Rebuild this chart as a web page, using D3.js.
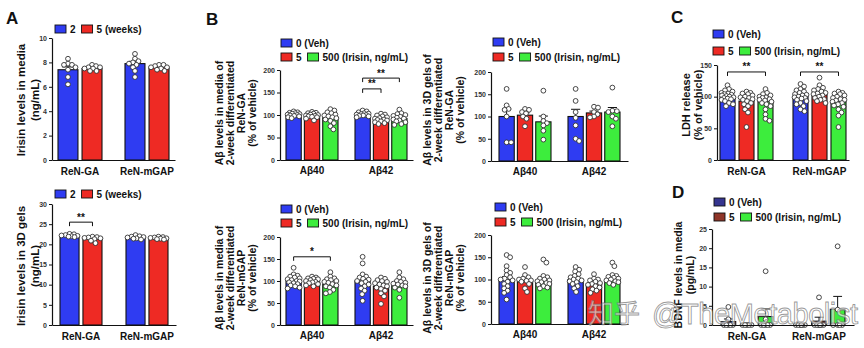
<!DOCTYPE html>
<html><head><meta charset="utf-8">
<script src="https://cdn.jsdelivr.net/npm/d3@7"></script>
<style>body{margin:0;background:#fff}svg{display:block;font-family:"Liberation Sans",Arial,sans-serif}</style>
</head><body><svg id="c" width="864" height="348"></svg>
<script>
// ---------------- DATA ----------------
const catCells = ["ReN-GA", "ReN-mGAP"];
const catAb = ["Aβ40", "Aβ42"];
const weekSeries = ["2", "5 (weeks)"];
const doseSeries = ["0 (Veh)", "5", "500 (Irisin, ng/mL)"];

const ticksA1 = [0, 2, 4, 6, 8, 10];
const ticksA2 = [0, 5, 10, 15, 20, 25, 30];
const ticksB = [0, 50, 100, 150, 200];
const ticksC = [0, 50, 100, 150];
const ticksD = [0, 5, 10, 15, 20, 25];

// Panel A: irisin in media (ng/mL)
const a1Means = [[7.4, 7.5], [7.9, 7.6]];
const a1Points = [
  [[8.3, 7.9, 7.8, 7.8, 7.6, 7.4, 6.8, 6.2], [7.8, 7.7, 7.6, 7.6, 7.5, 7.5, 7.3, 7.3]],
  [[8.7, 8.3, 8.1, 8.0, 7.9, 7.8, 7.6, 7.3, 6.8], [7.8, 7.8, 7.7, 7.6, 7.6, 7.5, 7.4, 7.3]]
];
// Panel A: irisin in 3D gels (ng/mL)
const a2Means = [[22.1, 21.4], [21.7, 21.5]];
const a2Points = [
  [[22.6, 22.5, 22.3, 22.2, 22.1, 22.0, 21.9, 21.8], [21.9, 21.8, 21.7, 21.6, 21.5, 21.3, 20.9, 20.3]],
  [[22.3, 22.0, 21.9, 21.8, 21.7, 21.5, 21.4, 21.2], [21.9, 21.8, 21.7, 21.6, 21.5, 21.4, 21.3, 21.2]]
];
const a2Sig = [{ group: "ReN-GA", from: 0, to: 1, at: 25.5, label: "**" }];

// Panel B: Abeta in media, ReN-GA (% of vehicle)
const bMediaGAMeans = [[100, 98, 94], [100, 90, 92]];
const bMediaGAPoints = [
  [[108, 106, 105, 104, 103, 102, 101, 100, 99, 98, 97, 95, 93],
   [107, 105, 104, 103, 101, 100, 99, 98, 97, 96, 95, 92, 88],
   [113, 110, 106, 104, 101, 99, 97, 95, 93, 90, 87, 82, 75, 68]],
  [[110, 108, 106, 104, 103, 102, 101, 100, 99, 98, 97, 95],
   [103, 101, 99, 97, 95, 93, 92, 90, 89, 88, 86, 84, 82, 80],
   [112, 104, 102, 100, 98, 96, 94, 92, 90, 88, 86, 84, 80, 78]]
];
const bMediaGASig = [
  { group: "Aβ42", from: 0, to: 1, at: 158, label: "**" },
  { group: "Aβ42", from: 0, to: 2, at: 182, label: "**" }
];
// Panel B: Abeta in media, ReN-mGAP
const bMediaMGMeans = [[100, 98, 92], [100, 88, 90]];
const bMediaMGPoints = [
  [[130, 115, 112, 110, 108, 106, 104, 102, 100, 99, 97, 95, 93, 90, 88, 85, 83],
   [110, 108, 106, 105, 104, 102, 100, 98, 97, 95, 93, 90, 88],
   [120, 110, 106, 104, 102, 100, 98, 96, 93, 90, 88, 85, 80, 75, 72]],
  [[155, 140, 115, 110, 108, 105, 103, 100, 98, 95, 92, 88, 83, 78, 70, 55],
   [108, 105, 102, 100, 98, 95, 92, 90, 88, 85, 82, 78, 72, 65, 48],
   [120, 108, 104, 100, 98, 96, 94, 92, 90, 88, 85, 80, 62]]
];
const bMediaMGSig = [{ group: "Aβ40", from: 0, to: 2, at: 155, label: "*" }];

// Panel B: Abeta in 3D gels, ReN-GA
const bGelGAMeans = [[100, 103, 88], [100, 108, 110]];
const bGelGAPoints = [
  [[162, 125, 117, 115, 100, 42, 42],
   [117, 115, 110, 107, 100, 95, 78],
   [158, 100, 90, 85, 80, 68, 48]],
  [[162, 135, 110, 97, 80, 50, 45],
   [122, 120, 110, 105, 100, 98],
   [165, 113, 112, 110, 100, 95, 78]]
];
// Panel B: Abeta in 3D gels, ReN-mGAP
const bGelMGMeans = [[100, 95, 98], [100, 90, 100]];
const bGelMGPoints = [
  [[155, 150, 130, 120, 115, 110, 105, 102, 100, 98, 95, 90, 85, 80, 75, 70, 55],
   [128, 110, 105, 102, 100, 98, 97, 95, 90, 80, 72],
   [145, 138, 108, 105, 102, 100, 98, 96, 94, 92, 90, 88, 85, 82, 80]],
  [[128, 122, 118, 112, 108, 105, 102, 100, 98, 96, 94, 90, 85, 80, 72],
   [112, 102, 100, 98, 95, 92, 90, 88, 85, 82, 78, 75, 70],
   [138, 130, 110, 108, 106, 104, 102, 100, 98, 96, 94, 92, 88]]
];

// Panel C: LDH release (% of vehicle)
const cMeans = [[100, 93, 92], [100, 103, 92]];
const cPoints = [
  [[118, 112, 110, 108, 106, 105, 104, 103, 102, 101, 100, 99, 98, 97, 96, 95, 93, 90, 88, 85],
   [108, 106, 105, 104, 102, 100, 99, 98, 96, 95, 93, 90, 88, 85, 80, 75, 52],
   [112, 106, 104, 102, 100, 99, 98, 96, 95, 94, 92, 90, 88, 85, 80, 72, 65, 62]],
  [[120, 116, 112, 110, 108, 106, 104, 103, 102, 100, 99, 98, 97, 95, 93, 90, 88, 85, 80, 77],
   [130, 118, 114, 112, 110, 108, 106, 105, 104, 102, 100, 98, 96, 95, 93, 90],
   [108, 106, 105, 104, 102, 100, 98, 96, 95, 94, 92, 90, 88, 86, 84, 80, 75, 70, 52]]
];
const cSig = [
  { group: "ReN-GA", from: 0, to: 2, at: 139, label: "**" },
  { group: "ReN-mGAP", from: 0, to: 2, at: 139, label: "**" }
];

// Panel D: BDNF in media (pg/mL)
const dMeans = [[0.9, 0, 2.2], [0, 1.0, 4.1]];
const dPoints = [
  [[4.7, 1.5, 0, 0, 0, 0, 0], [0, 0, 0, 0, 0], [14, 1.5, 0, 0, 0, 0, 0]],
  [[0, 0, 0, 0, 0, 0], [7.2, 0, 0, 0, 0, 0, 0], [20.5, 4, 0, 0, 0, 0]]
];

// ---------------- DRAWING ----------------
const svg = d3.select("#c");
const col3 = ["#2f3cf2", "#ee2a24", "#3ded3d"];
const col3D = ["#35358f", "#8f3528", "#3ded3d"];
const col2 = ["#2f3cf2", "#ee2a24"];
const R = 2.4;

function swarm(values, yScale, r, maxOff) {
  const placed = [];
  const items = values.map(v => ({ v, y: yScale(v) })).sort((a, b) => a.y - b.y);
  const minD = 2 * r * 0.85;
  const cands = [];
  for (let c = 0; c <= maxOff; c += 0.5) { cands.push(c); if (c > 0) cands.push(-c); }
  for (const p of items) {
    let best = 0, bestD = -1;
    for (const c of cands) {
      let md = Infinity;
      for (const q of placed) md = Math.min(md, Math.hypot(c - q.x, p.y - q.y));
      if (md >= minD) { best = c; break; }
      if (md > bestD + 0.01) { bestD = md; best = c; }
    }
    placed.push({ x: best, y: p.y, v: p.v });
  }
  return placed;
}

function drawPanel(p) {
  const g = svg.append("g");
  const y = d3.scaleLinear().domain([0, p.yMax]).range([p.y0, p.y1]);
  const n = p.groups.length;
  const step = p.gs;
  const pi = 1 - p.gw / step;
  const po = (p.first - p.ax) / step;
  const right = p.ax + step * (n - pi + 2 * po);
  const x0 = d3.scaleBand().domain(p.groups).range([p.ax, right]).paddingInner(pi).paddingOuter(po);
  const x1 = d3.scaleBand().domain(d3.range(p.series.length)).range([0, x0.bandwidth()])
    .paddingInner(p.barPad).paddingOuter(0);

  p.groups.forEach((grp, gi) => {
    p.series.forEach((s, si) => {
      const m = p.means[gi][si];
      const bx = x0(grp) + x1(si);
      const bw = x1.bandwidth();
      if (m > 0) {
        g.append("rect").attr("x", bx).attr("y", y(m)).attr("width", bw).attr("height", p.y0 - y(m))
          .attr("fill", p.colors[si]).attr("stroke", "#111").attr("stroke-width", 1.1);
      }
      const pts = p.points[gi][si];
      const sem = d3.deviation(pts) / Math.sqrt(pts.length);
      if (m > 0 && sem > 0) {
        const cx = bx + bw / 2;
        const ce = g.append("g").attr("stroke", "#111").attr("stroke-width", 1);
        ce.append("line").attr("x1", cx).attr("x2", cx).attr("y1", y(m)).attr("y2", y(m + sem));
        ce.append("line").attr("x1", cx - bw * 0.3).attr("x2", cx + bw * 0.3).attr("y1", y(m + sem)).attr("y2", y(m + sem));
      }
      const sw = swarm(pts, y, R, bw / 2 - 1.5);
      g.append("g").selectAll("circle").data(sw).join("circle")
        .attr("cx", d => bx + bw / 2 + d.x).attr("cy", d => d.y).attr("r", R)
        .attr("fill", "#fff").attr("stroke", "#333").attr("stroke-width", 0.9);
    });
  });

  const ya = g.append("g").attr("transform", `translate(${p.ax},0)`)
    .call(d3.axisLeft(y).tickValues(p.ticks).tickSize(3).tickSizeOuter(0).tickPadding(2));
  ya.select(".domain").attr("stroke", "#111").attr("stroke-width", 1.2);
  ya.selectAll(".tick line").attr("stroke", "#111").attr("stroke-width", 1);
  ya.selectAll(".tick text").attr("font-size", 7).attr("font-weight", "bold").attr("fill", "#333")
    .attr("font-family", '"Liberation Sans", Arial, sans-serif');

  const xa = g.append("g").attr("transform", `translate(0,${p.y0})`)
    .call(d3.axisBottom(x0).tickSize(0).tickSizeOuter(0).tickPadding(p.xPad));
  xa.select(".domain").attr("stroke", "#111").attr("stroke-width", 1.2);
  xa.selectAll(".tick text").attr("font-size", p.catSize).attr("font-weight", "bold").attr("fill", "#111")
    .attr("font-family", '"Liberation Sans", Arial, sans-serif');

  p.ylabel.forEach((line, i) => {
    g.append("text").attr("transform", `translate(${p.ylx[i]},${p.lcy}) rotate(-90)`)
      .attr("text-anchor", "middle").attr("dy", "0.35em").attr("font-size", p.labSize)
      .attr("font-weight", "bold").attr("fill", "#111").text(line);
  });

  p.legendRows.forEach((row, ri) => {
    let cx = p.lx;
    const ty = p.ly + ri * p.lrh;
    row.forEach(si => {
      g.append("rect").attr("x", cx).attr("y", ty).attr("width", 11).attr("height", 8)
        .attr("fill", p.colors[si]).attr("stroke", "#111").attr("stroke-width", 0.9);
      const t = g.append("text").attr("x", cx + 15).attr("y", ty + 8).attr("font-size", 10)
        .attr("font-weight", "bold").attr("fill", "#111").text(p.series[si]);
      cx += 15 + t.node().getComputedTextLength() + 6;
    });
  });

  (p.sig || []).forEach(s => {
    const xa1 = x0(s.group) + x1(s.from) + x1.bandwidth() / 2;
    const xa2 = x0(s.group) + x1(s.to) + x1.bandwidth() / 2;
    const yy = y(s.at);
    g.append("path").attr("d", `M${xa1},${yy + 4}V${yy}H${xa2}V${yy + 4}`)
      .attr("fill", "none").attr("stroke", "#111").attr("stroke-width", 1);
    g.append("text").attr("x", (xa1 + xa2) / 2).attr("y", yy - 1.5).attr("text-anchor", "middle")
      .attr("font-size", 10).attr("font-weight", "bold").attr("fill", "#111").text(s.label);
  });
}

const common = { barPad: 0.17, xPad: 7, catSize: 10 };
drawPanel({ ...common, ax: 52, y0: 160, y1: 38, yMax: 10, ticks: ticksA1, groups: catCells, series: weekSeries,
  colors: col2, means: a1Means, points: a1Points, first: 58, gw: 44, gs: 67,
  ylabel: ["Irisin levels in media", "(ng/mL)"], ylx: [21, 35], lcy: 100, labSize: 11.5,
  legendRows: [[0, 1]], lx: 55, ly: 25, lrh: 14, xPad: 8 });
drawPanel({ ...common, ax: 52, y0: 325, y1: 204, yMax: 30, ticks: ticksA2, groups: catCells, series: weekSeries,
  colors: col2, means: a2Means, points: a2Points, first: 60, gw: 42, gs: 66,
  ylabel: ["Irisin levels in 3D gels", "(ng/mL)"], ylx: [21, 35], lcy: 266, labSize: 11.5,
  legendRows: [[0, 1]], lx: 55, ly: 190, lrh: 14, sig: a2Sig, xPad: 8 });
drawPanel({ ...common, ax: 280, y0: 160, y1: 70, yMax: 200, ticks: ticksB, groups: catAb, series: doseSeries,
  colors: col3, means: bMediaGAMeans, points: bMediaGAPoints, first: 286, gw: 52, gs: 69,
  ylabel: ["Aβ levels in media of", "2-week differentiated", "ReN-GA", "(% of vehicle)"],
  ylx: [219, 230, 241, 252], lcy: 113, labSize: 10.5,
  legendRows: [[0], [1, 2]], lx: 281, ly: 39, lrh: 14, sig: bMediaGASig });
drawPanel({ ...common, ax: 280, y0: 325, y1: 237, yMax: 200, ticks: ticksB, groups: catAb, series: doseSeries,
  colors: col3, means: bMediaMGMeans, points: bMediaMGPoints, first: 286, gw: 52, gs: 69,
  ylabel: ["Aβ levels in media of", "2-week differentiated", "ReN-mGAP", "(% of vehicle)"],
  ylx: [219, 230, 241, 252], lcy: 278, labSize: 10.5,
  legendRows: [[0], [1, 2]], lx: 281, ly: 205, lrh: 14, sig: bMediaMGSig });
drawPanel({ ...common, ax: 491, y0: 161, y1: 72, yMax: 200, ticks: ticksB, groups: catAb, series: doseSeries,
  colors: col3, means: bGelGAMeans, points: bGelGAPoints, first: 499, gw: 52, gs: 69,
  ylabel: ["Aβ levels in 3D gels of", "2-week differentiated", "ReN-GA", "(% of vehicle)"],
  ylx: [427, 438, 449, 460], lcy: 110, labSize: 10.5,
  legendRows: [[0], [1, 2]], lx: 493, ly: 38, lrh: 15 });
drawPanel({ ...common, ax: 491, y0: 324, y1: 235, yMax: 200, ticks: ticksB, groups: catAb, series: doseSeries,
  colors: col3, means: bGelMGMeans, points: bGelMGPoints, first: 499, gw: 52, gs: 69,
  ylabel: ["Aβ levels in 3D gels of", "2-week differentiated", "ReN-mGAP", "(% of vehicle)"],
  ylx: [427, 438, 449, 460], lcy: 278, labSize: 10.5,
  legendRows: [[0], [1, 2]], lx: 495, ly: 203, lrh: 15 });
drawPanel({ ...common, ax: 717, y0: 160, y1: 65, yMax: 150, ticks: ticksC, groups: catCells, series: doseSeries,
  colors: col3, means: cMeans, points: cPoints, first: 720, gw: 53, gs: 73, barPad: 0.21,
  ylabel: ["LDH release", "(% of vehicle)"], ylx: [686, 698], lcy: 105, labSize: 11,
  legendRows: [[0], [1, 2]], lx: 713, ly: 30, lrh: 17, sig: cSig, xPad: 8 });
drawPanel({ ...common, ax: 712, y0: 325, y1: 229, yMax: 25, ticks: ticksD, groups: catCells, series: doseSeries,
  colors: col3D, means: dMeans, points: dPoints, first: 721, gw: 52, gs: 72, barPad: 0.21,
  ylabel: ["BDNF levels in media", "(pg/mL)"], ylx: [678, 690], lcy: 275, labSize: 10.5,
  legendRows: [[0], [1, 2]], lx: 714, ly: 198, lrh: 15, xPad: 8 });

[["A", 6, 24], ["B", 206, 25], ["C", 671, 23], ["D", 672, 198]].forEach(([t, x, yy]) => {
  svg.append("text").attr("x", x).attr("y", yy).attr("font-size", 17).attr("font-weight", "bold")
    .attr("fill", "#111").text(t);
});

// watermark overlay
const wm = svg.append("g").attr("fill", "rgba(255,255,255,0.6)").attr("stroke", "rgba(110,110,110,0.7)").attr("stroke-width", 0.9);
wm.append("text").attr("x", 588).attr("y", 323).attr("font-size", 26)
  .attr("font-family", '"Noto Sans CJK SC", sans-serif').text("知乎");
wm.append("text").attr("x", 652).attr("y", 324).attr("font-size", 29)
  .attr("font-family", '"Liberation Sans", Arial, sans-serif').attr("textLength", 206).text("@TheMetabolist");
</script>
</body></html>
